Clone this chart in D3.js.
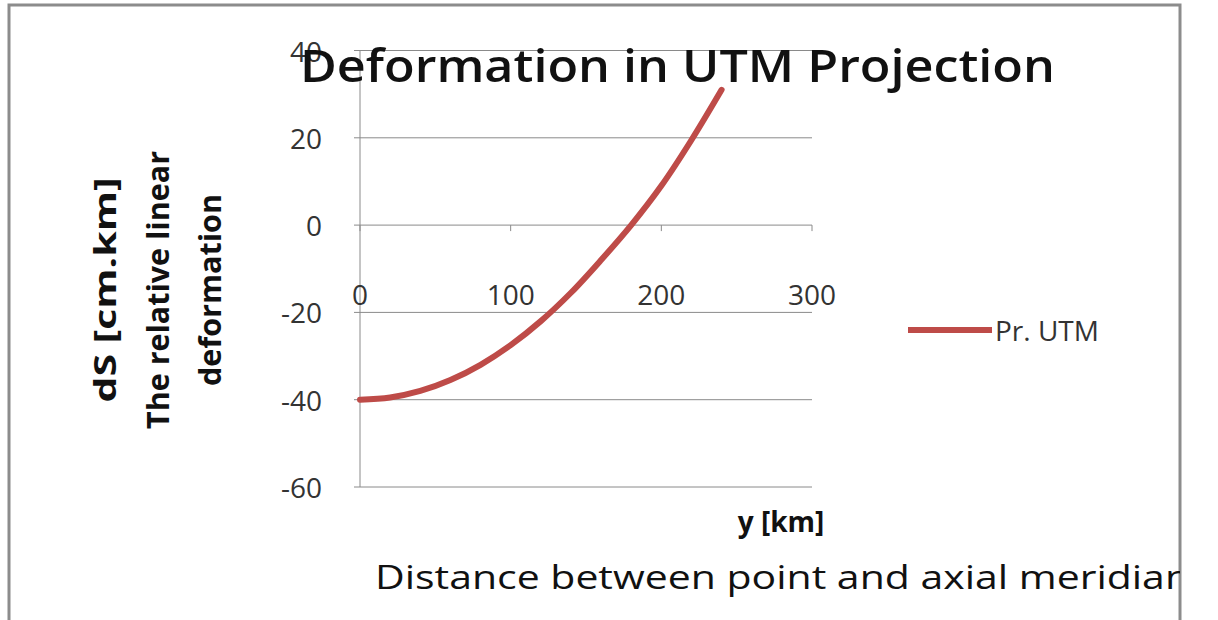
<!DOCTYPE html>
<html><head><meta charset="utf-8">
<script src="https://cdn.jsdelivr.net/npm/d3@7"></script>
<style>body{margin:0;background:#fff}</style>
</head><body>
<script>
// data
var distKm = [0, 20, 40, 60, 80, 100, 120, 140, 160, 180, 200, 220, 240];
var deform = [-40, -39.5, -38, -35.5, -32, -27.5, -22, -15.5, -8, 0, 9, 19.5, 31];
var xTicks = [0, 100, 200, 300];
var yTicks = [-60, -40, -20, 0, 20, 40];

var W = 1218, H = 620;
var svg = d3.select("body").append("svg").attr("width", W).attr("height", H);
var font = "Open Sans, sans-serif";

// chart frame
svg.append("clipPath").attr("id", "frame").append("rect")
    .attr("x", 9).attr("y", 5).attr("width", 1171).attr("height", 640);
svg.append("rect").attr("x", 9).attr("y", 5).attr("width", 1171).attr("height", 640)
    .attr("fill", "none").attr("stroke", "#8c8c8c").attr("stroke-width", 3);

var x = d3.scaleLinear().domain([0, 300]).range([360, 812]);
var y = d3.scaleLinear().domain([-60, 40]).range([487, 50.5]);

// gridlines
svg.append("g").selectAll("line").data(yTicks).join("line")
    .attr("x1", x(0)).attr("x2", x(300))
    .attr("y1", function(d) { return y(d); }).attr("y2", function(d) { return y(d); })
    .attr("stroke", "#8a8a8a").attr("stroke-width", 1);

// y axis
svg.append("line").attr("x1", x(0)).attr("x2", x(0)).attr("y1", y(40)).attr("y2", y(-60))
    .attr("stroke", "#8a8a8a");
svg.append("g").selectAll("line").data(yTicks).join("line")
    .attr("x1", x(0) - 6).attr("x2", x(0))
    .attr("y1", function(d) { return y(d); }).attr("y2", function(d) { return y(d); })
    .attr("stroke", "#8a8a8a");
svg.append("g").selectAll("text").data(yTicks).join("text")
    .attr("x", x(0) - 38).attr("y", function(d) { return y(d); })
    .attr("text-anchor", "end").attr("dominant-baseline", "central")
    .style("font-family", font).style("font-size", "28px").style("fill", "#333")
    .text(function(d) { return d; });

// x axis at y=0
svg.append("g").selectAll("line").data(xTicks).join("line")
    .attr("x1", function(d) { return x(d); }).attr("x2", function(d) { return x(d); })
    .attr("y1", y(0)).attr("y2", y(0) + 6).attr("stroke", "#8a8a8a");
svg.append("g").selectAll("text").data(xTicks).join("text")
    .attr("x", function(d) { return x(d); }).attr("y", y(0) + 80)
    .attr("text-anchor", "middle")
    .style("font-family", font).style("font-size", "28px").style("fill", "#333")
    .text(function(d) { return d; });

// series
svg.append("path").datum(distKm.map(function(d, i) { return [d, deform[i]]; }))
    .attr("fill", "none").attr("stroke", "#be4b48").attr("stroke-width", 6)
    .attr("stroke-linecap", "round")
    .attr("d", d3.line().curve(d3.curveCatmullRom)
        .x(function(d) { return x(d[0]); }).y(function(d) { return y(d[1]); }));

// title
svg.append("text").attr("x", 300).attr("y", 82)
    .attr("textLength", 755).attr("lengthAdjust", "spacingAndGlyphs")
    .style("font-family", font).style("font-size", "46px").style("font-weight", "600").style("fill", "#111")
    .text("Deformation in UTM Projection");

// y axis title
var yt = ["dS  [cm.km]", "The relative linear", "deformation"];
var ycx = [105, 158, 210];
var ylen = [225, 278, 192];
yt.forEach(function(t, i) {
  svg.append("text").attr("transform", "translate(" + (ycx[i] + 11) + ",290) rotate(-90)")
      .attr("text-anchor", "middle")
      .attr("textLength", ylen[i]).attr("lengthAdjust", "spacingAndGlyphs")
      .style("font-family", font).style("font-size", "31px").style("font-weight", "bold").style("fill", "#111")
      .text(t);
});

// x axis title
svg.append("text").attr("x", 781).attr("y", 532).attr("text-anchor", "middle")
    .style("font-family", font).style("font-size", "28px").style("font-weight", "bold").style("fill", "#111")
    .text("y [km]");
svg.append("text").attr("x", 375).attr("y", 589).attr("clip-path", "url(#frame)")
    .attr("textLength", 815).attr("lengthAdjust", "spacingAndGlyphs")
    .style("font-family", font).style("font-size", "32px").style("fill", "#111")
    .text("Distance between point and axial meridian");

// legend
svg.append("line").attr("x1", 908).attr("x2", 992).attr("y1", 330).attr("y2", 330)
    .attr("stroke", "#be4b48").attr("stroke-width", 6);
svg.append("text").attr("x", 995).attr("y", 330).attr("dominant-baseline", "central")
    .style("font-family", font).style("font-size", "28px").style("fill", "#333")
    .text("Pr. UTM");
</script>
</body></html>
